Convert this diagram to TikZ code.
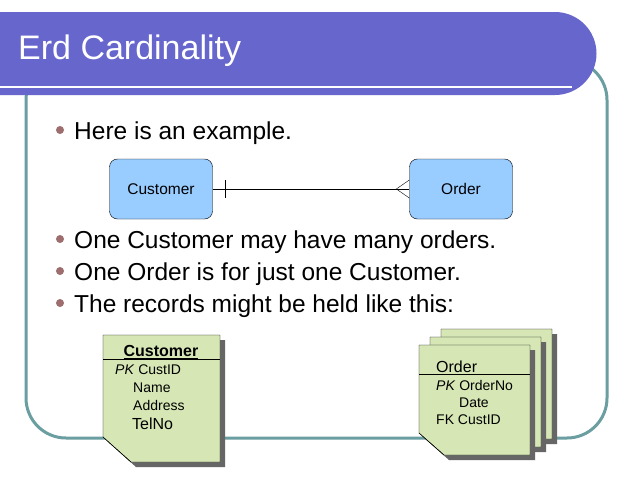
\documentclass[tikz,border=0pt]{standalone}
\usepackage{fontspec}
\setmainfont{Liberation Sans}
\begin{document}
\begin{tikzpicture}[x=1pt,y=-1pt,
  bul/.style={circle,fill=bulc,inner sep=0pt,minimum size=8pt},
  btxt/.style={anchor=west,font=\fontsize{24.5}{28}\selectfont,inner sep=0pt},
  ent/.style={draw=black,fill=entc,rounded corners=8pt,minimum width=103pt,minimum height=60pt,font=\fontsize{15.5}{18}\selectfont},
  sheet/.style={draw=black,fill=tabc},
  shadow/.style={fill=gray!80!black},
  ttxt/.style={anchor=west,inner sep=0pt,font=\fontsize{14}{16}\selectfont}]
\definecolor{titc}{HTML}{6666CC}
\definecolor{framec}{HTML}{6B9EA0}
\definecolor{bulc}{HTML}{9E6E6E}
\definecolor{entc}{HTML}{99CCFF}
\definecolor{tabc}{HTML}{D6E6B5}
\useasboundingbox (0,0) rectangle (638,479);
\fill[white] (0,0) rectangle (638,479);
% frame
\draw[framec,line width=3pt,rounded corners=40pt] (26,60) rectangle (607,438);
% title bar
\fill[titc] (0,12) -- (555,12) arc[start angle=-90,end angle=90,radius=41.5] -- (0,95) -- cycle;
\draw[white,line width=1.5pt] (0,87) -- (572,87);
\node[anchor=west,text=white,inner sep=0pt,font=\fontsize{34}{40}\selectfont] (title) at (18,51) {Erd Cardinality};
% bullets
\node[bul] (b1) at (60,130) {}; \node[btxt] (t1) at (74,133) {Here is an example.};
\node[bul] (b2) at (60,239) {}; \node[btxt] (t2) at (74,242) {One Customer may have many orders.};
\node[bul] (b3) at (60,271) {}; \node[btxt] (t3) at (74,274) {One Order is for just one Customer.};
\node[bul] (b4) at (60,303) {}; \node[btxt] (t4) at (74,306) {The records might be held like this:};
% ER
\node[ent] (cust) at (161,189) {Customer};
\node[ent] (ord) at (461,189) {Order};
\draw (cust.east) -- (ord.west);
\draw ([xshift=12pt]cust.east) ++(0,-9) -- ++(0,18);
\draw ([yshift=-9pt]ord.west) -- ([xshift=-13pt]ord.west) -- ([yshift=9pt]ord.west);
% customer table
\fill[shadow] (108,340) -- (225,340) -- (225,467) -- (136,467) -- (108,442) -- cycle;
\draw[sheet] (103,335) -- (220,335) -- (220,462) -- (131,462) -- (103,437) -- cycle;
\draw (131,462) -- (103,437);
\draw (103,359) -- (220,359);
\node[font=\fontsize{16}{18}\selectfont\bfseries,inner sep=0pt] (ch) at (161,352) {\underline{Customer}};
\node[ttxt] (c1) at (115,370) {\textit{PK} CustID};
\node[ttxt] (c2) at (133,388) {Name};
\node[ttxt] (c3) at (133,405) {Address};
\node[ttxt,font=\fontsize{16}{18}\selectfont] (c4) at (132,424) {TelNo};
% order stack
\foreach \dx/\dy in {22/-16,11/-8,0/0}{
  \fill[shadow] (424+\dx,350+\dy) -- (535+\dx,350+\dy) -- (535+\dx,460+\dy) -- (449+\dx,460+\dy) -- (424+\dx,438+\dy) -- cycle;
  \draw[sheet] (419+\dx,345+\dy) -- (530+\dx,345+\dy) -- (530+\dx,455+\dy) -- (444+\dx,455+\dy) -- (419+\dx,433+\dy) -- cycle;
}
\draw (444,455) -- (419,433);
\draw (419,374) -- (530,374);
\node[ttxt,font=\fontsize{16}{18}\selectfont] (oh) at (436,367) {Order};
\node[ttxt] (o1) at (436,385) {\textit{PK} OrderNo};
\node[ttxt] (o2) at (459,403) {Date};
\node[ttxt] (o3) at (436,420) {FK CustID};
\end{tikzpicture}
\end{document}
